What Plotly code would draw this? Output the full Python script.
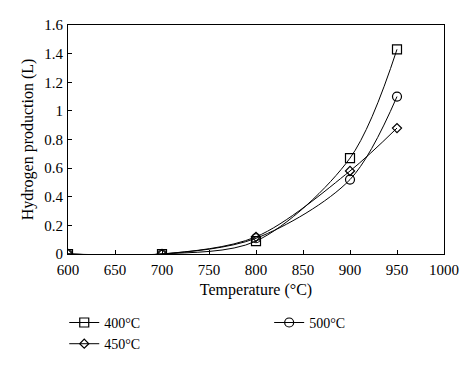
import plotly.graph_objects as go

temps = [600, 700, 800, 900, 950]
h400 = [0.0, 0.0, 0.09, 0.67, 1.43]
h450 = [0.0, 0.0, 0.12, 0.58, 0.88]
h500 = [0.0, 0.0, 0.11, 0.52, 1.10]
x_ticks = [600, 650, 700, 750, 800, 850, 900, 950, 1000]
y_ticks = [0, 0.2, 0.4, 0.6, 0.8, 1.0, 1.2, 1.4, 1.6]
y_tick_text = ["0", "0.2", "0.4", "0.6", "0.8", "1", "1.2", "1.4", "1.6"]

FONT = "Liberation Serif"

fig = go.Figure()
series = [
    ("400°C", h400, "square-open", 9, "legend"),
    ("450°C", h450, "diamond-open", 7, "legend"),
    ("500°C", h500, "circle-open", 9, "legend2"),
]
for name, ys, sym, sz, lg in series:
    fig.add_trace(go.Scatter(
        x=temps, y=ys, name=name, mode="lines+markers",
        line=dict(color="black", width=1, shape="spline", smoothing=0.9),
        marker=dict(symbol=sym, size=sz, color="black", line=dict(width=1.2, color="black")),
        legend=lg,
    ))

axis_common = dict(
    showline=True, linecolor="black", linewidth=1, mirror=True,
    ticks="inside", ticklen=4, tickcolor="black", showgrid=False, zeroline=False,
    tickfont=dict(family=FONT, size=15, color="black"), automargin=False,
)
fig.update_xaxes(range=[600, 1000], tickvals=x_ticks, ticklabelstandoff=2,
                 title=dict(text="Temperature (°C)", font=dict(family=FONT, size=16, color="black"), standoff=6),
                 **axis_common)
fig.update_yaxes(range=[0, 1.6], tickvals=y_ticks, ticktext=y_tick_text, ticklabelstandoff=1,
                 title=dict(text="Hydrogen production (L)", font=dict(family=FONT, size=16, color="black"), standoff=6),
                 **axis_common)

legend_font = dict(family=FONT, size=14, color="black")
fig.update_layout(
    width=474, height=368,
    margin=dict(l=68, r=30, t=25, b=114),
    plot_bgcolor="white", paper_bgcolor="white",
    font=dict(family=FONT, color="black"),
    legend=dict(x=-0.01, y=0.166, yref="container", xanchor="left", yanchor="top", orientation="v",
                font=legend_font, tracegroupgap=0, itemwidth=30, bgcolor="rgba(0,0,0,0)"),
    legend2=dict(x=0.535, y=0.166, yref="container", xanchor="left", yanchor="top", orientation="v",
                 font=legend_font, itemwidth=30, bgcolor="rgba(0,0,0,0)"),
)

fig.write_html("out.html", config={"displayModeBar": False},
               post_script="document.body.style.margin='0';document.body.style.overflow='hidden';")
